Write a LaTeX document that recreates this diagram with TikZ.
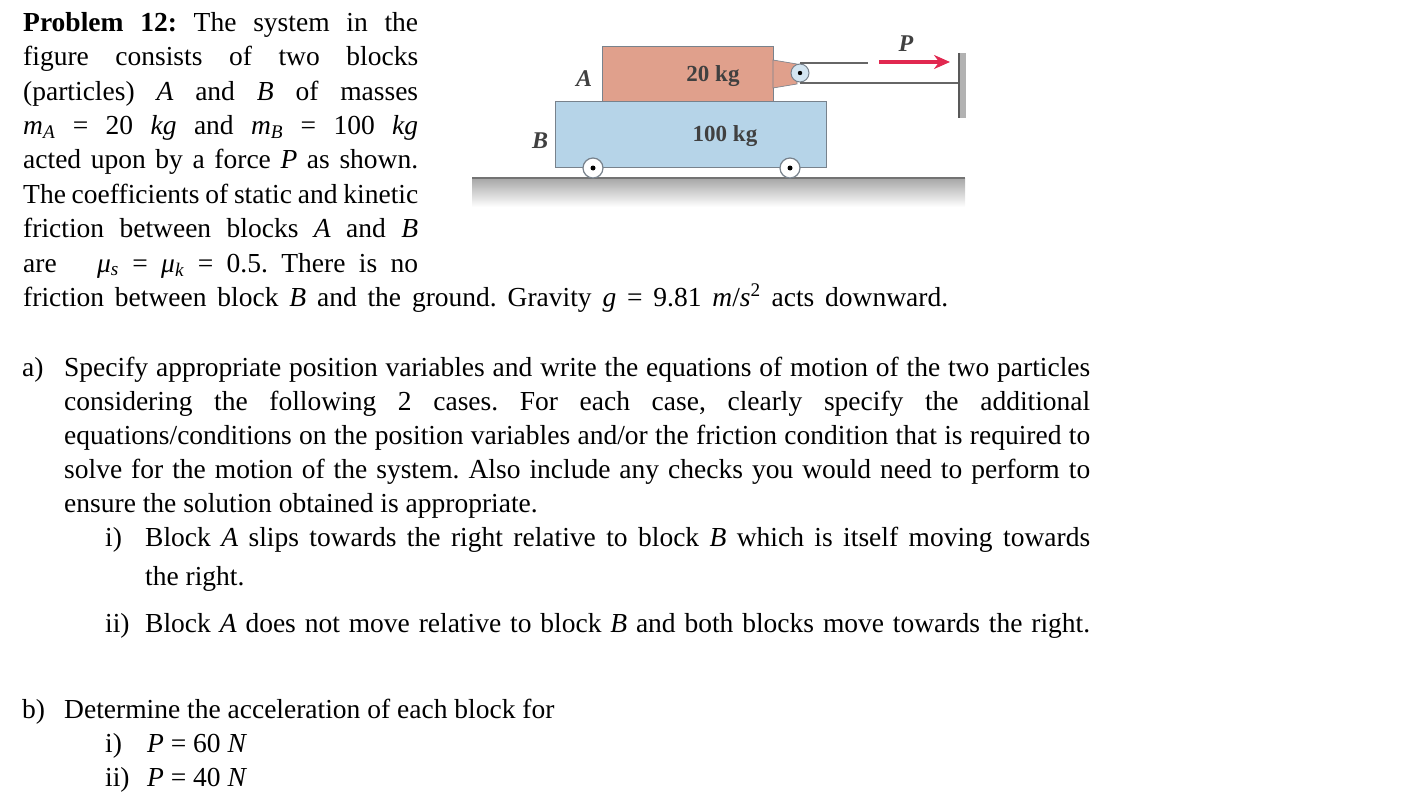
\documentclass[tikz,border=0pt]{standalone}
\usepackage{fontspec}
\setmainfont{Liberation Serif}
\usetikzlibrary{arrows.meta}
\definecolor{blockA}{RGB}{224,160,140}
\definecolor{blockB}{RGB}{182,212,232}
\definecolor{edge}{RGB}{120,130,140}
\definecolor{pred}{RGB}{225,40,80}
\frenchspacing
\begin{document}
\begin{tikzpicture}[x=1pt,y=-1pt,
  txt/.style={anchor=base west,inner sep=0pt,font=\fontsize{27.5}{32}\selectfont},
  lbl/.style={font=\fontsize{24}{28}\selectfont\bfseries\itshape,text=black!75},
  mass/.style={font=\fontsize{23}{27}\selectfont\bfseries,text=black!75},
  wheel/.style={circle,draw=edge,fill=white,line width=1.2pt,minimum size=20pt,inner sep=0pt}]
\useasboundingbox (0,0) rectangle (1422,800);
% ground
\shade[top color=black!35,bottom color=white] (472,178) rectangle (965,207);
\draw[black!55,line width=1.5pt] (472,178) -- (965,178);
% block B and wheels
\draw[edge,fill=blockB,line width=0.8pt] (555,101) rectangle (826,167);
\node[wheel] (w1) at (593,168) {};
\node[wheel] (w2) at (790,168) {};
\fill[black] (w1) circle (2.5pt) (w2) circle (2.5pt);
\node[mass] (mB) at (725,136) {100 kg};
\node[lbl] (lB) at (540,141) {B};
% block A
\draw[edge,fill=blockA,line width=0.8pt] (602,46) rectangle (773,101);
\node[mass] (mA) at (713,76) {20 kg};
\node[lbl] (lA) at (584,79) {A};
% bracket + pulley
\draw[edge,fill=blockA,line width=0.6pt] (773,60) -- (797,64) -- (797,84) -- (773,88) -- cycle;
\node[circle,draw=edge,fill=blockB!60,line width=1pt,minimum size=18pt,inner sep=0pt] (pul) at (800,73) {};
\fill[black] (pul) circle (2.2pt);
% cable
\draw[black!60,line width=1.3pt] (800,63) -- (868,63);
\draw[black!60,line width=1.3pt] (800,83) -- (959,83);
% wall
\fill[black!30] (959,53) rectangle (966,118);
\draw[black!65,line width=1.5pt] (959,53) -- (959,118);
% force
\draw[pred,line width=3.5pt,-{Stealth[length=16pt,width=14pt]}] (879,62) -- (950,62);
\node[lbl] (lP) at (906,44) {P};
% text top
\node[txt] (t1) at (23,32) {\makebox[395pt][s]{\textbf{Problem 12:} The system in the}};
\node[txt] (t2) at (23,66) {\makebox[395pt][s]{figure consists of two blocks}};
\node[txt] (t3) at (23,100) {\makebox[395pt][s]{(particles) \textit{A} and \textit{B} of masses}};
\node[txt] (t4) at (23,134) {\makebox[395pt][s]{\textit{m}\textsubscript{\textit{A}} = 20 \textit{kg} and \textit{m}\textsubscript{\textit{B}} = 100 \textit{kg}}};
\node[txt] (t5) at (23,168) {\makebox[395pt][s]{acted upon by a force \textit{P} as shown.}};
\node[txt] (t6) at (23,203) {\makebox[395pt][s]{The coefficients of static and kinetic}};
\node[txt] (t7) at (23,237) {\makebox[395pt][s]{friction between blocks \textit{A} and \textit{B}}};
\node[txt] (t8) at (23,272) {\makebox[395pt][s]{are \ \ \textit{μ}\textsubscript{\textit{s}} = \textit{μ}\textsubscript{\textit{k}} = 0.5. There is no}};
\node[txt] (t9) at (23,306) {\makebox[925pt][s]{friction between block \textit{B} and the ground. Gravity \textit{g} = 9.81 \textit{m}/\textit{s}\textsuperscript{2} acts downward.}};
% part a
\node[txt] (a0) at (22,376) {a)};
\node[txt] (a1) at (64,376) {\makebox[1026pt][s]{Specify appropriate position variables and write the equations of motion of the two particles}};
\node[txt] (a2) at (64,410) {\makebox[1026pt][s]{considering the following 2 cases. For each case, clearly specify the additional}};
\node[txt] (a3) at (64,444) {\makebox[1026pt][s]{equations/conditions on the position variables and/or the friction condition that is required to}};
\node[txt] (a4) at (64,478) {\makebox[1026pt][s]{solve for the motion of the system. Also include any checks you would need to perform to}};
\node[txt] (a5) at (64,512) {ensure the solution obtained is appropriate.};
\node[txt] (ai) at (105,546) {i)};
\node[txt] (ai1) at (145,546) {\makebox[945pt][s]{Block \textit{A} slips towards the right relative to block \textit{B} which is itself moving towards}};
\node[txt] (ai2) at (145,585) {the right.};
\node[txt] (aii) at (105,632) {ii)};
\node[txt] (aii1) at (145,632) {\makebox[945pt][s]{Block \textit{A} does not move relative to block \textit{B} and both blocks move towards the right.}};
% part b
\node[txt] (b0) at (22,718) {b)};
\node[txt] (b1) at (64,718) {Determine the acceleration of each block for};
\node[txt] (bi) at (105,752) {i)};
\node[txt] (bi1) at (147,752) {\textit{P} = 60 \textit{N}};
\node[txt] (bii) at (105,786) {ii)};
\node[txt] (bii1) at (147,786) {\textit{P} = 40 \textit{N}};
\end{tikzpicture}
\end{document}
